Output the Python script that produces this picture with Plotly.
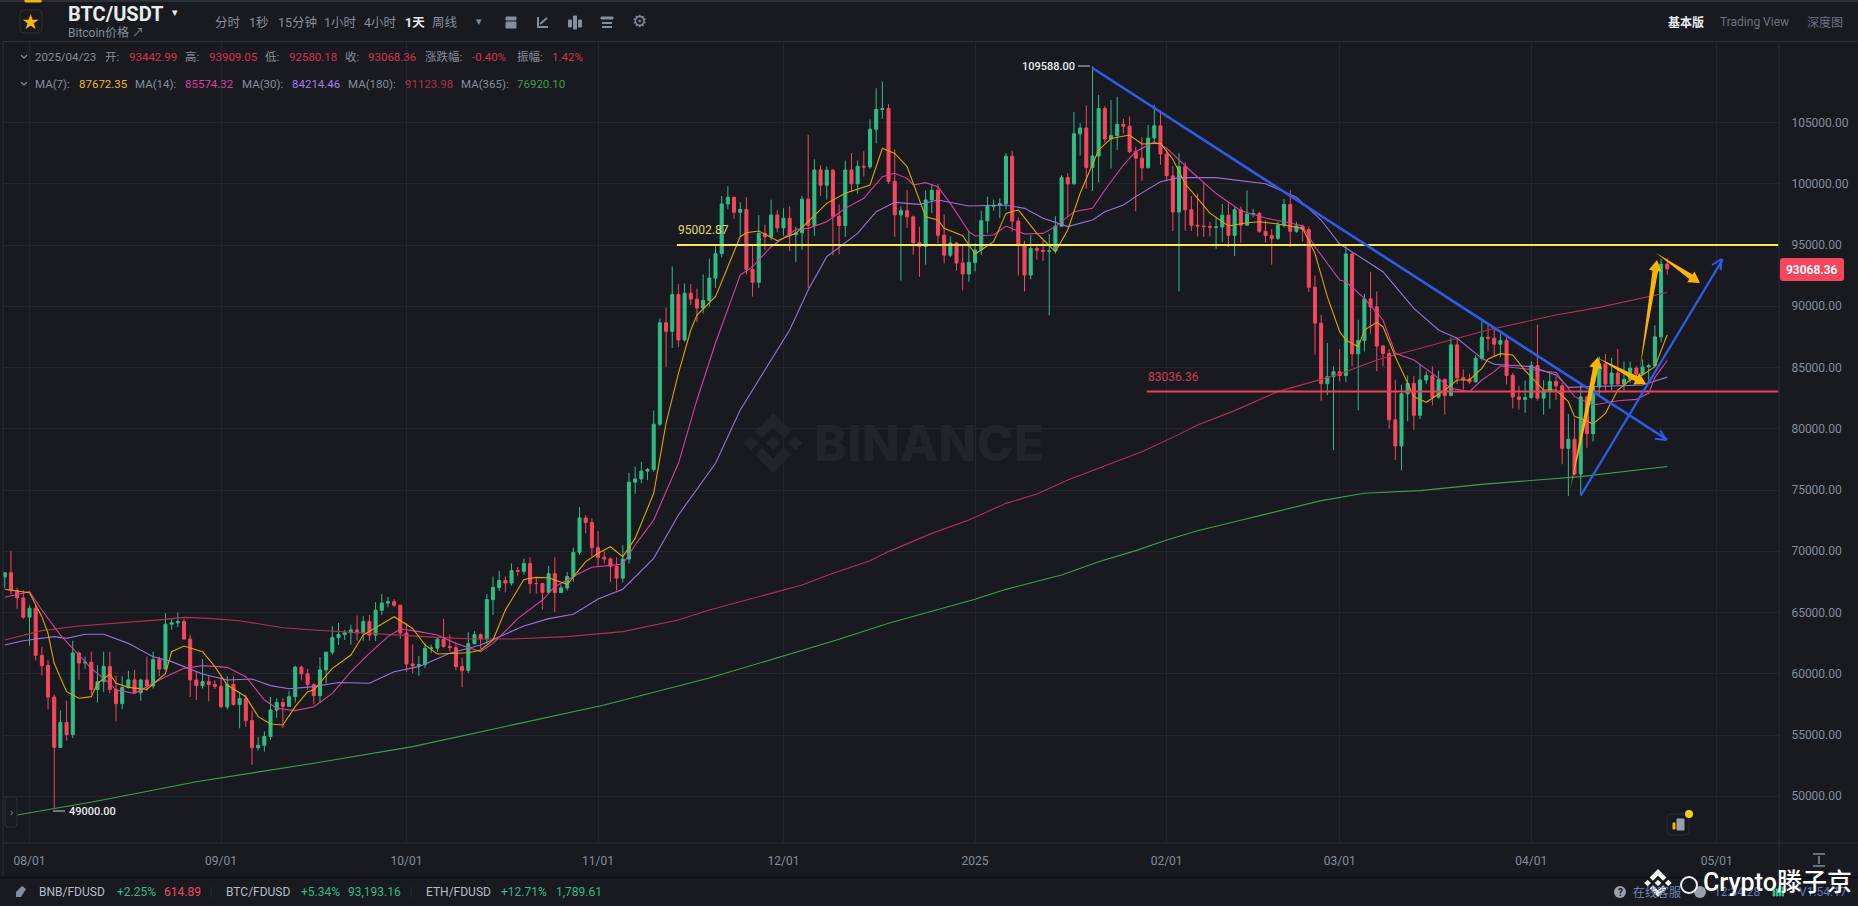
import pandas as pd
import plotly.graph_objects as go

W, H = 1858, 906
BG = "#181A20"
GRID = "#22252B"
LINE = "#2B2F36"
GREY = "#848E9C"
WHITE = "#EAECEF"
UP = "#2EBD85"
DOWN = "#F6465D"
FONT = "Roboto, 'Noto Sans CJK SC', sans-serif"

# daily candles, first one is 2024-07-28
highs = [
    68300, 70000, 67000, 66800,
    65600, 65600, 62200, 61100, 58300, 57000, 57800, 62700, 61800, 61400, 61800, 60700, 61800, 61800, 59850, 59800,
    60250, 60300, 59600, 61400, 61800, 61400, 64950, 64500, 65000, 64480, 63200, 60200, 61200, 59900, 59450,
    59800, 59800, 59800, 58500, 58300, 56990, 54850, 55300, 58100, 58000, 58000, 58600, 60650, 60650, 60400,
    59200, 61350, 61800, 63900, 64150, 63580, 64000, 64750, 64700, 64800, 65850, 66500, 66260, 66080, 65600,
    64130, 62400, 61450, 62480, 62370, 63000, 64480, 63200, 62540, 61320, 63400, 63480, 63290, 66500, 67950, 68400,
    67950, 69000, 68700, 69400, 69500, 67850, 67400, 68800, 69500, 67300, 68300, 70300, 73600, 72950, 72700,
    71650, 70000, 69500, 69500, 70500, 76400, 76900, 77300, 76800, 81500, 89000, 89900, 93250, 91800, 91850,
    91800, 91450, 92600, 93900, 94900, 99000, 99800, 98950, 98500, 98900, 94950, 97450, 96650, 98700, 97850,
    98000, 98150, 96500, 99000, 104000, 102000, 101500, 101400, 101200, 98300, 101900, 102500, 101900, 102650, 105250,
    107800, 108350, 106500, 102800, 98150, 99500, 97400, 96500, 99450, 99950, 99950, 97500, 95700, 95250, 95000, 96150,
    95150, 97800, 98950, 98700, 98800, 102500, 102700, 97250, 95350, 95800, 95050, 95400, 95900, 97350, 100700,
    100850, 105850, 104950, 106400, 109590, 107250, 106350, 106850, 107100, 105300, 105500, 103000, 103800, 104800, 106450, 106000,
    102800, 101450, 102500, 101750, 99000, 99200, 100150, 96900, 97300, 98350, 98500, 98100, 98150, 99450,
    97950, 97700, 97000, 96300, 96900, 98750, 99500, 96900, 96650, 96500, 92500, 89300, 87000, 85100,
    86500, 95000, 94400, 88900, 91000, 92800, 91200, 86850, 86500, 84000, 83600, 84350, 84300, 85300, 84650,
    85100, 84750, 84100, 87450, 87450, 84850, 84500, 86000, 88750, 88500, 88300, 87800, 87500, 84550, 83500, 83950,
    85500, 88500, 83950, 84700, 84250, 83750, 81200, 80850, 83550, 82700, 84300, 85900, 86100, 85800, 86500,
    85500, 85500, 85100, 85650, 85300, 88450, 93850, 93910,
]
lows = [
    67000, 66500, 65300, 64500,
    62300, 61100, 59850, 57100, 49000, 53950, 54550, 54750, 59500, 60400, 58300, 57650, 58500, 58400, 56100, 57100,
    58780, 58400, 57800, 58600, 58800, 59800, 60350, 63600, 63800, 62800, 58100, 57850, 58800, 57750, 58750,
    57200, 57100, 57400, 55550, 55650, 52550, 53750, 53650, 54600, 56400, 55550, 57340, 57650, 59450, 58700,
    57500, 57600, 59200, 61560, 62350, 62750, 62380, 62700, 62700, 62700, 62670, 64800, 65420, 65450, 62850,
    60160, 60050, 59830, 60460, 61700, 61800, 62130, 61840, 60300, 58900, 60050, 62400, 62050, 62440, 64800, 66750,
    66650, 67200, 68000, 68100, 66550, 66550, 65250, 66500, 65050, 66600, 66800, 67500, 69700, 71450, 69600,
    68800, 69000, 67500, 66800, 67450, 69000, 74700, 75550, 75800, 76500, 80200, 85050, 86600, 86650, 87100,
    90100, 88700, 89400, 89950, 91500, 94000, 97900, 97150, 95700, 92600, 90800, 91500, 94600, 95400, 96050,
    95750, 94500, 93600, 94600, 91500, 95750, 99000, 98700, 94150, 94250, 95650, 99300, 99200, 100600, 101230,
    103300, 105300, 100000, 95650, 92100, 96400, 94200, 92400, 93400, 97600, 95150, 93500, 94000, 92900, 91300, 92000,
    92850, 94200, 96000, 97800, 97200, 97900, 96100, 92500, 91200, 92200, 93800, 93700, 89250, 94300, 96500,
    97300, 99950, 102300, 99600, 99400, 100100, 103350, 101250, 102750, 104100, 102500, 97750, 100250, 101250, 103300, 101550,
    100300, 96150, 91200, 96150, 96150, 95700, 95650, 95700, 94700, 95250, 94850, 94100, 95200, 96600,
    97250, 96000, 95200, 93400, 95400, 96450, 94850, 96000, 95300, 91150, 86050, 82250, 82750, 78250,
    83850, 83800, 85100, 81500, 86300, 87750, 84700, 85100, 80000, 77450, 76600, 80600, 79900, 80800, 83650,
    81900, 82450, 81150, 82650, 83650, 83200, 83650, 83800, 85550, 86300, 85900, 85850, 83600, 81650, 81550, 81300,
    82400, 82300, 81150, 81650, 82350, 77100, 74500, 76200, 74600, 78450, 78950, 82750, 83050, 83150, 83600,
    83100, 83750, 84100, 84400, 83900, 85100, 87050, 92580,
]
closes = [
    68250, 66780, 66190, 64620,
    65350, 61500, 60680, 58100, 53990, 56030, 55030, 61700, 60880, 60940, 58710, 59350, 60600, 58730, 57560, 58870,
    59500, 58450, 59490, 59010, 61160, 60380, 64040, 64160, 64260, 62830, 59500, 59030, 59370, 59120, 58970,
    57300, 59130, 57490, 57970, 56180, 53960, 54160, 54880, 57040, 57650, 57340, 58130, 60540, 60000, 59130,
    58210, 60310, 61760, 62950, 63200, 63350, 63580, 63340, 64260, 63150, 65180, 65770, 65880, 65600, 63330,
    60800, 60650, 60750, 62080, 62090, 62820, 62220, 62130, 60580, 60270, 62450, 63190, 62850, 66050, 67040, 67610,
    67400, 68420, 68360, 69000, 67360, 67360, 66650, 68170, 66630, 67010, 67930, 69910, 72720, 72340, 70290,
    69500, 69370, 68780, 67810, 69360, 75640, 75900, 76540, 76680, 80370, 88650, 87950, 90950, 87250, 91060,
    90580, 89850, 90470, 92300, 94290, 98350, 98890, 97670, 97900, 93010, 91960, 95950, 95650, 97450, 96400,
    97180, 95840, 96000, 98740, 96600, 101130, 99880, 101110, 97350, 96590, 101120, 100000, 101420, 101370, 104450,
    106060, 106140, 100200, 97460, 97800, 97300, 95190, 94880, 98680, 99460, 95800, 94170, 95160, 93530, 92640, 93580,
    94590, 96980, 98150, 98230, 98370, 102240, 96950, 95060, 92550, 94720, 94560, 94490, 94520, 96530, 100500,
    99990, 104080, 104550, 101330, 102260, 106140, 103650, 103930, 104850, 104700, 102620, 102090, 101300, 103730, 104730, 102430,
    100650, 97690, 101400, 97870, 96610, 96550, 96500, 96450, 96470, 97430, 95780, 97870, 96620, 97510,
    97570, 96120, 95770, 95540, 96620, 98310, 96120, 96550, 96250, 91550, 88620, 83680, 84250, 84650,
    84350, 94270, 86120, 87200, 90600, 89950, 86750, 86150, 80730, 78600, 82850, 83700, 81100, 83980, 84340,
    82580, 84030, 82720, 86850, 84170, 84040, 83830, 85750, 87470, 87390, 86900, 87200, 84350, 82600, 82390, 82550,
    85160, 82500, 83100, 83850, 83500, 78400, 79150, 76300, 82600, 79600, 83400, 85300, 83650, 84550, 83650,
    84030, 84950, 84450, 85050, 85150, 87500, 93440, 93068,
]
opens = [67900] + closes[:-1]
dates = pd.date_range("2024-07-28", periods=len(closes), freq="D")

# moving averages, day numbers count from 2024-08-01
ma7_day = [-4, 0, 2, 3, 4, 6, 8, 10, 11, 13, 14, 16, 19, 22, 23, 25, 28, 30, 32, 35, 37, 39, 41, 43, 45, 46, 49, 52, 54,
           59, 62, 64, 66, 71, 73, 75, 77, 80, 82, 84, 87, 90, 92, 94, 96, 98, 101, 103, 105, 107, 108, 111, 113, 115,
           116, 118, 121, 124, 126, 129, 132, 136, 138, 140, 142, 145, 147, 148, 151, 153, 156, 158, 160, 163, 166,
           168, 170, 173, 175, 178, 180, 183, 185, 187, 189, 191, 194, 197, 199, 202, 206, 208, 210, 212, 213, 215,
           216, 218, 219, 221, 223, 224, 226, 229, 231, 233, 235, 236, 238, 240, 242, 245, 247, 249, 250, 251, 253,
           255, 257, 259, 261, 263, 265]
ma7 = [66900, 66620, 64660, 63300, 60850, 58540, 58000, 58130, 59220, 59980, 59220, 58890, 58730, 60030, 61800, 62265,
       61800, 60580, 59080, 58130, 56500, 55900, 55820, 57310, 58540, 58670, 60440, 61530, 63160, 64660, 63700, 62350,
       61610, 61720, 61940, 62750, 65200, 67700, 67870, 67840, 67300, 69150, 69830, 70370, 69560, 71050, 74730, 80450,
       84525, 88060, 89280, 90780, 93230, 95680, 96000, 96140, 95355, 95950, 96900, 98400, 99220, 99900, 102890, 102480,
       101400, 97300, 97040, 96360, 95760, 94260, 95270, 97580, 97860, 95950, 94460, 96220, 99220, 102750, 103700, 103980,
       103250, 103300, 102000, 100000, 98800, 97600, 96550, 96820, 96900, 96710, 96360, 94320, 90780, 87925, 87240, 86700,
       88060, 88690, 88330, 85880, 83710, 82620, 82160, 83160, 83980, 83980, 84930, 85700, 86130, 86020, 84740, 83160,
       83160, 82210, 80990, 80850, 80390, 81260, 83160, 83980, 84390, 85070, 87672]

ma14_day = [-4, 0, 2, 5, 7, 10, 13, 14, 17, 20, 22, 25, 28, 32, 35, 38, 40, 43, 46, 49, 52, 55, 58, 60, 63, 66, 69, 73,
            75, 78, 79, 83, 85, 89, 91, 94, 96, 98, 101, 105, 108, 111, 115, 117, 120, 124, 126, 129, 132, 135, 138,
            140, 142, 143, 145, 147, 149, 152, 153, 156, 158, 161, 164, 166, 169, 172, 174, 177, 179, 182, 184, 188,
            192, 196, 200, 204, 206, 208, 212, 213, 216, 219, 221, 224, 227, 230, 233, 235, 237, 238, 241, 247, 250,
            253, 257, 260, 262, 263, 265]
ma14 = [66240, 66700, 65200, 63160, 62075, 60440, 59220, 58670, 58400, 59220, 59760, 60440, 60660, 60520, 59760, 57860,
        57180, 56990, 57310, 58400, 60170, 61670, 63030, 63650, 63440, 63160, 62480, 61800, 62480, 63980, 64500, 66020,
        67110, 68200, 68690, 68850, 68960, 70510, 72550, 77180, 82350, 87000, 92550, 93230, 94860, 96280, 96360, 96900,
        97990, 98810, 100580, 100850, 100440, 99900, 100090, 99760, 98400, 96090, 95730, 95820, 96550, 95900, 95950,
        96500, 97720, 97990, 99490, 101530, 102620, 103430, 102900, 101000, 99200, 97800, 97200, 96800, 96550, 94860,
        92140, 92000, 90650, 88880, 86160, 85610, 84520, 83300, 83030, 83980, 84660, 85120, 84930, 84600, 82620, 81940,
        82290, 82400, 82890, 84200, 85574]

ma30_day = [-4, -1, 4, 6, 9, 12, 16, 20, 23, 28, 32, 36, 39, 42, 46, 50, 55, 59, 63, 68, 73, 76, 80, 84, 88, 92, 96, 101,
            105, 111, 115, 123, 126, 129, 134, 137, 140, 144, 147, 152, 158, 161, 164, 168, 172, 174, 177, 179, 183,
            186, 192, 200, 205, 209, 212, 219, 221, 224, 228, 231, 235, 237, 243, 247, 249, 256, 261, 265]
ma30 = [62350, 62700, 63030, 62890, 63220, 63220, 62480, 61390, 60990, 59980, 59490, 59570, 59030, 58780, 58950, 59280,
        59220, 60170, 60580, 61670, 62350, 63030, 63900, 64500, 64850, 66100, 66900, 69420, 72960, 77180, 81530, 88060,
        91330, 94050, 95950, 97720, 98480, 98320, 98670, 98180, 98260, 97990, 97180, 96500, 97040, 97720, 98270, 98950,
        100170, 100500, 100500, 100000, 98900, 97040, 95080, 92820, 91600, 89830, 88060, 87380, 85750, 85260, 85070,
        84390, 83380, 83500, 83570, 84214]

ma180_day = [-4, 2, 8, 14, 22, 25, 29, 34, 41, 46, 53, 59, 66, 72, 78, 87, 96, 105, 110, 125, 130, 136, 139, 146, 152,
             158, 163, 168, 173, 180, 186, 189, 195, 202, 209, 212, 218, 231, 236, 247, 254, 265]
ma180 = [62755, 63520, 63900, 64120, 64440, 64600, 64520, 64330, 63760, 63570, 63350, 63160, 62970, 62840, 62840, 63030,
         63440, 64390, 65200, 67245, 68200, 69230, 69970, 71460, 72550, 73910, 74670, 75820, 76770, 78130, 79540, 80310,
         81480, 83030, 84030, 84470, 85610, 87380, 88060, 89290, 89910, 91124]

ma365_day = [-2, 11, 27, 46, 62, 78, 93, 110, 131, 139, 146, 153, 158, 167, 173, 179, 184, 189, 195, 200, 209, 216, 225,
             235, 251, 265]
ma365 = [48470, 49610, 51190, 52690, 54050, 55820, 57450, 59650, 62810, 64120, 65070, 66080, 66890, 68060, 69150, 70050,
         70920, 71680, 72410, 73040, 74130, 74730, 74950, 75463, 76090, 76920]

# hand drawn levels and trend lines
level_95_x = ["2024-11-13 18:00", "2025-05-11"]
level_95 = [95002.87, 95002.87]
level_83_x = ["2025-01-28 19:00", "2025-05-11"]
level_83 = [83036.36, 83036.36]
fall_x = ["2025-01-20", "2025-04-23"]
fall_y = [109450, 79100]
rise_x = ["2025-04-09", "2025-05-02"]
rise_y = [74540, 93850]

month_ticks = ["2024-08-01", "2024-09-01", "2024-10-01", "2024-11-01", "2024-12-01", "2025-01-01",
               "2025-02-01", "2025-03-01", "2025-04-01", "2025-05-01"]
month_labels = ["08/01", "09/01", "10/01", "11/01", "12/01", "2025", "02/01", "03/01", "04/01", "05/01"]
price_ticks = [50000, 55000, 60000, 65000, 70000, 75000, 80000, 85000, 90000, 95000, 100000, 105000]


def day_to_date(days):
    return pd.Timestamp("2024-08-01") + pd.to_timedelta(days, unit="D")


def px(x):
    return x / W


def py(y):
    return 1 - y / H


annotations = []
shapes = []


def label(x, y, text, color=GREY, size=12, anchor="left", weight=400, family=FONT):
    annotations.append(dict(
        x=px(x), y=py(y), xref="paper", yref="paper", text=text, showarrow=False,
        xanchor=anchor, yanchor="middle", borderpad=0,
        font=dict(family=family, size=size, color=color, weight=weight),
    ))


def seg(x0, y0, x1, y1, color=LINE, width=1, layer="above"):
    shapes.append(dict(type="line", xref="paper", yref="paper", x0=px(x0), y0=py(y0), x1=px(x1), y1=py(y1),
                       line=dict(color=color, width=width), layer=layer))


def box(x0, y0, x1, y1, fill, line=None):
    shapes.append(dict(type="rect", xref="paper", yref="paper", x0=px(x0), y0=py(y0), x1=px(x1), y1=py(y1),
                       fillcolor=fill, line=dict(color=line or fill, width=1)))


def round_box(x0, y0, x1, y1, r, fill=None, line=None):
    X0, X1, Xa, Xb = px(x0), px(x1), px(x0 + r), px(x1 - r)
    Y0, Y1, Ya, Yb = py(y0), py(y1), py(y0 + r), py(y1 - r)
    path = (f"M{Xa},{Y0}L{Xb},{Y0}Q{X1},{Y0} {X1},{Ya}L{X1},{Yb}Q{X1},{Y1} {Xb},{Y1}"
            f"L{Xa},{Y1}Q{X0},{Y1} {X0},{Yb}L{X0},{Ya}Q{X0},{Y0} {Xa},{Y0}Z")
    shapes.append(dict(type="path", xref="paper", yref="paper", path=path, fillcolor=fill or "rgba(0,0,0,0)",
                       line=dict(color=line or "rgba(0,0,0,0)", width=1 if line else 0)))


def poly(points, fill, layer="above"):
    path = "M" + "L".join(f"{px(x):.5f},{py(y):.5f}" for x, y in points) + "Z"
    shapes.append(dict(type="path", xref="paper", yref="paper", path=path, fillcolor=fill,
                       line=dict(width=0), layer=layer))


def taper_arrow(x0, y0, x1, y1, color="#FFB400"):
    # thin at the tail, widest just behind the head
    dx, dy = x1 - x0, y1 - y0
    n = (dx ** 2 + dy ** 2) ** 0.5
    ux, uy = dx / n, dy / n
    nx, ny = -uy, ux
    bx, by = x1 - ux * 11, y1 - uy * 11
    poly([(x0, y0), (bx + nx * 2.8, by + ny * 2.8), (bx + nx * 6.5, by + ny * 6.5), (x1, y1),
          (bx - nx * 6.5, by - ny * 6.5), (bx - nx * 2.8, by - ny * 2.8)], color)


def open_head(x0, y0, x1, y1, color, width):
    dx, dy = x1 - x0, y1 - y0
    n = (dx ** 2 + dy ** 2) ** 0.5
    ux, uy = dx / n, dy / n
    nx, ny = -uy, ux
    for s in (1, -1):
        seg(x1, y1, x1 - ux * 10 + s * nx * 5, y1 - uy * 10 + s * ny * 5, color, width)


def binance_logo(cx, cy, r, color, layer="above"):
    top = [(0, -1), (.6, -.4), (.36, -.16), (0, -.52), (-.36, -.16), (-.6, -.4)]
    poly([(cx + a * r, cy + b * r) for a, b in top], color, layer)
    poly([(cx + a * r, cy - b * r) for a, b in top], color, layer)
    for ox, half in ((0, .24), (-.74, .24), (.74, .24)):
        poly([(cx + (ox - half) * r, cy), (cx + ox * r, cy - half * r),
              (cx + (ox + half) * r, cy), (cx + ox * r, cy + half * r)], color, layer)


fig = go.Figure()
fig.add_trace(go.Candlestick(
    x=dates, open=opens, high=highs, low=lows, close=closes, whiskerwidth=0,
    increasing=dict(line=dict(color=UP, width=1), fillcolor=UP),
    decreasing=dict(line=dict(color=DOWN, width=1), fillcolor=DOWN),
))
for days, values, color in [
    (ma365_day, ma365, "#3E9E4B"),
    (ma180_day, ma180, "#B5304F"),
    (ma30_day, ma30, "#9B72D9"),
    (ma14_day, ma14, "#D63F9F"),
    (ma7_day, ma7, "#E0A400"),
]:
    fig.add_trace(go.Scatter(x=[day_to_date(d) for d in days], y=values, mode="lines",
                             line=dict(color=color, width=1.1)))
fig.add_trace(go.Scatter(x=level_95_x, y=level_95, mode="lines", line=dict(color="#F5E85E", width=2)))
fig.add_trace(go.Scatter(x=level_83_x, y=level_83, mode="lines", line=dict(color="#EE3F5C", width=2)))
fig.add_trace(go.Scatter(x=fall_x, y=fall_y, mode="lines", line=dict(color="#2F5BEA", width=2.6)))
fig.add_trace(go.Scatter(x=rise_x, y=rise_y, mode="lines", line=dict(color="#2F5BEA", width=2.2)))

# frame
seg(0, 1, W, 1, LINE, 2)
seg(3, 41.5, W, 41.5)
seg(3, 41, 3, 877)
seg(3, 843, W, 843)
seg(1779, 41, 1779, 877)
seg(0, 877.5, W, 877.5, "#0D0E11", 1.5)
box(25, 0, 41, 2, "#F0B90B")

# watermark in the chart
binance_logo(773, 443, 30, "#21242B", "below")
label(929, 443, "BINANCE", "#21242B", 50, "center", 800, "Inter")

# header
round_box(20, 10, 42, 33, 4, line=LINE)
label(31, 22.5, "★", "#F0B90B", 17, "center")
label(67, 14, "BTC/USDT", WHITE, 20, weight=700)
label(175, 13, "▾", WHITE, 11, "center")
label(67, 33, "Bitcoin价格 ↗", GREY, 12)
for x, text in [(228, "分时"), (259, "1秒"), (297, "15分钟"), (340, "1小时"), (380, "4小时"), (445, "周线")]:
    label(x, 22, text, GREY, 12.5, "center")
label(415, 22, "1天", WHITE, 12.5, "center", 700)
label(479, 21, "▾", GREY, 11, "center")
# toolbar icons
box(506, 17, 516, 20, GREY)
box(506, 22, 516, 28, GREY)
seg(538, 17, 538, 28, GREY, 2)
seg(538, 27, 548, 27, GREY, 2)
seg(540, 24, 547, 18, GREY, 2)
for x, y0, y1 in [(570, 20, 27), (575, 16, 29), (580, 20, 27)]:
    box(x - 1.5, y0, x + 1.5, y1, GREY)
box(601, 17, 613, 19, GREY)
seg(602, 23, 612, 23, GREY, 2)
seg(602, 27, 612, 27, GREY, 2)
label(639, 21.5, "⚙", GREY, 17, "center")
label(1667, 22, "基本版", WHITE, 12, weight=700)
label(1719, 22, "Trading View", "#6B7280", 12)
label(1806, 22, "深度图", "#6B7280", 12)

# OHLC readout
R = "#D9304F"
for y in (57, 84):
    seg(21, y - 2, 24, y + 1, GREY, 1.3)
    seg(24, y + 1, 27, y - 2, GREY, 1.3)
for x, text, color in [
    (34, "2025/04/23", GREY), (104, "开:", GREY), (128, "93442.99", R), (184, "高:", GREY), (208, "93909.05", R),
    (264, "低:", GREY), (288, "92580.18", R), (344, "收:", GREY), (367, "93068.36", R), (424, "涨跌幅:", GREY),
    (471, "-0.40%", R), (516, "振幅:", GREY), (551, "1.42%", R),
]:
    label(x, 57, text, color, 11.5)
for x, text, color in [
    (34, "MA(7):", GREY), (78, "87672.35", "#F0B90B"), (134, "MA(14):", GREY), (184, "85574.32", "#D63F9F"),
    (241, "MA(30):", GREY), (291, "84214.46", "#A47BE8"), (347, "MA(180):", GREY), (404, "91123.98", "#B5304F"),
    (460, "MA(365):", GREY), (516, "76920.10", "#3E9E4B"),
]:
    label(x, 84, text, color, 11.5)

# chart labels
label(677, 230, "95002.87", "#E6D86A", 12)
label(1147, 377, "83036.36", "#D03A57", 12)
seg(1078, 66, 1090, 66, "#C8CCD2", 1)
label(1076, 66, "109588.00", WHITE, 11, "right", 500)
seg(53, 811, 65, 811, "#C8CCD2", 1)
label(68, 811, "49000.00", WHITE, 11, weight=500)

# annotated moves
taper_arrow(1570, 490, 1598, 357)
taper_arrow(1598, 358, 1646, 384)
taper_arrow(1640, 368, 1657, 260)
taper_arrow(1656, 253, 1700, 283)
open_head(1090, 68, 1666, 440, "#2F5BEA", 2)
open_head(1579, 496, 1721.5, 259, "#2F5BEA", 2)

# last price tag
round_box(1780, 258, 1844, 281, 3, fill=DOWN)
label(1812, 269.5, "93068.36", "#FFFFFF", 12, "center", 600)

# small widgets
round_box(5, 797, 17, 827, 3, line=LINE)
label(11, 812, "›", GREY, 11, "center")
round_box(1667, 814, 1689, 835, 5, line=LINE)
box(1677, 819, 1684, 830, "#9AA1AC")
box(1673, 823, 1675, 829, "#F0B90B")
shapes.append(dict(type="circle", xref="paper", yref="paper", x0=px(1685), y0=py(810), x1=px(1693), y1=py(818),
                   fillcolor="#F0D020", line=dict(width=0)))
seg(1813, 854, 1825, 854, GREY, 1.5)
seg(1813, 866, 1825, 866, GREY, 1.5)
seg(1819, 856, 1819, 864, GREY, 1.5)

# footer tickers
G = "#2EBD85"
poly([(16, 897), (16, 892), (22, 886), (26, 889), (21, 897)], GREY)
for x, text, color in [
    (38, "BNB/FDUSD", "#B7BDC6"), (116, "+2.25%", G), (163, "614.89", DOWN), (225, "BTC/FDUSD", "#B7BDC6"),
    (300, "+5.34%", G), (347, "93,193.16", G), (425, "ETH/FDUSD", "#B7BDC6"), (500, "+12.71%", G), (555, "1,789.61", G),
]:
    label(x, 892, text, color, 12)
seg(211, 887, 211, 897)
seg(411, 887, 411, 897)
shapes.append(dict(type="circle", xref="paper", yref="paper", x0=px(1614), y0=py(898), x1=px(1626), y1=py(886),
                   fillcolor="#9AA1AC", line=dict(width=0)))
label(1620, 892, "?", BG, 10, "center", 700)
label(1632, 892, "在线客服", "#6F88B8", 12)
shapes.append(dict(type="circle", xref="paper", yref="paper", x0=px(1694), y0=py(898), x1=px(1706), y1=py(886),
                   fillcolor="#9AA1AC", line=dict(width=0)))
label(1713, 892, "12:34:28", "#5C7BC0", 12)
for x, top in [(1773, 890), (1776, 889), (1779, 888), (1782, 887)]:
    box(x, top, x + 1.5, 896, G)
label(1798, 892, "V1.54.17", "#5C7BC0", 12)

# site watermark over the footer
binance_logo(1658, 883, 14, "#F2F2F2")
shapes.append(dict(type="circle", xref="paper", yref="paper", x0=px(1681), y0=py(893), x1=px(1697), y1=py(877),
                   line=dict(color="#F2F2F2", width=2)))
label(1702, 882, "Crypto滕子京", "#FFFFFF", 25, weight=500)

fig.update_layout(
    width=W, height=H, margin=dict(l=0, r=0, t=0, b=0), autosize=False, showlegend=False,
    paper_bgcolor=BG, plot_bgcolor=BG, font=dict(family=FONT, color=GREY, size=12),
    annotations=annotations, shapes=shapes, hovermode=False,
    xaxis=dict(
        type="date", domain=[px(3), px(1779)], range=["2024-07-27 17:05", "2025-05-11 02:00"],
        rangeslider=dict(visible=False), tickvals=month_ticks, ticktext=month_labels, tickangle=0,
        gridcolor=GRID, gridwidth=1, showline=False, zeroline=False, ticks="outside", ticklen=7, tickcolor=BG,
        tickfont=dict(family=FONT, size=12, color=GREY),
    ),
    yaxis=dict(
        side="right", domain=[1 - 843 / H, 1 - 42 / H], range=[46184, 111571], tickvals=price_ticks,
        tickformat=".2f", gridcolor=GRID, gridwidth=1, showline=False, zeroline=False, ticks="outside", ticklen=9,
        tickcolor=BG, tickfont=dict(family=FONT, size=12, color=GREY),
    ),
)

fig.write_html("out.html", config={"displayModeBar": False}, post_script="document.body.style.margin='0';")
